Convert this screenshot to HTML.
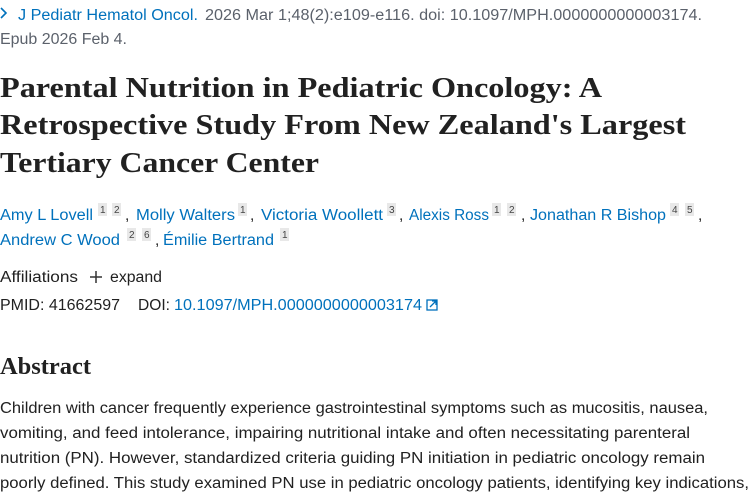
<!DOCTYPE html>
<html><head><meta charset="utf-8"><style>
html,body{margin:0;padding:0;background:#fff;width:750px;height:500px;overflow:hidden}
svg{display:block}
.s{font-family:"Liberation Sans",sans-serif;font-size:15.5px}
.t{font-family:"Liberation Serif",serif;font-size:28px;font-weight:bold;fill:#212121}
.l{fill:#0071bc}.g{fill:#5b616b}.d{fill:#212121}
.sup{font-family:"Liberation Sans",sans-serif;font-size:10px;fill:#444}
</style></head><body>
<svg width="750" height="500" xmlns="http://www.w3.org/2000/svg">
<path d="M1 8 L6 13 L1 18" stroke="#0071bc" stroke-width="1.6" fill="none"/>
<text class="s l" x="18" y="20" textLength="180" lengthAdjust="spacingAndGlyphs">J Pediatr Hematol Oncol.</text>
<text class="s g" x="205" y="20" textLength="497" lengthAdjust="spacingAndGlyphs">2026 Mar 1;48(2):e109-e116. doi: 10.1097/MPH.0000000000003174.</text>
<text class="s g" x="0" y="44" textLength="127" lengthAdjust="spacingAndGlyphs">Epub 2026 Feb 4.</text>
<text class="t" x="0" y="97" textLength="602" lengthAdjust="spacingAndGlyphs">Parental Nutrition in Pediatric Oncology: A</text>
<text class="t" x="0" y="134" textLength="686" lengthAdjust="spacingAndGlyphs">Retrospective Study From New Zealand's Largest</text>
<text class="t" x="0" y="172" textLength="319" lengthAdjust="spacingAndGlyphs">Tertiary Cancer Center</text>
<g fill="#e8e8e8">
<rect x="98" y="203" width="9" height="13"/><rect x="112" y="203" width="9" height="13"/>
<rect x="238" y="203" width="9" height="13"/>
<rect x="387" y="203" width="9" height="13"/>
<rect x="492" y="203" width="9" height="13"/><rect x="507" y="203" width="9" height="13"/>
<rect x="670" y="203" width="9" height="13"/><rect x="685" y="203" width="9" height="13"/>
<rect x="127" y="228" width="9" height="13"/><rect x="142" y="228" width="9" height="13"/>
<rect x="280" y="228" width="9" height="13"/>
</g>
<text class="sup" x="100" y="213">1</text><text class="sup" x="114" y="213">2</text>
<text class="sup" x="240" y="213">1</text><text class="sup" x="389" y="213">3</text>
<text class="sup" x="494" y="213">1</text><text class="sup" x="509" y="213">2</text>
<text class="sup" x="672" y="213">4</text><text class="sup" x="687" y="213">5</text>
<text class="sup" x="129" y="238">2</text><text class="sup" x="144" y="238">6</text>
<text class="sup" x="282" y="238">1</text>
<text class="s l" x="0" y="220" textLength="93" lengthAdjust="spacingAndGlyphs">Amy L Lovell</text>
<text class="s d" x="125" y="220">,</text>
<text class="s l" x="136" y="220" textLength="99" lengthAdjust="spacingAndGlyphs">Molly Walters</text>
<text class="s d" x="250" y="220">,</text>
<text class="s l" x="261" y="220" textLength="122" lengthAdjust="spacingAndGlyphs">Victoria Woollett</text>
<text class="s d" x="399" y="220">,</text>
<text class="s l" x="409" y="220" textLength="80" lengthAdjust="spacingAndGlyphs">Alexis Ross</text>
<text class="s d" x="521" y="220">,</text>
<text class="s l" x="530" y="220" textLength="136" lengthAdjust="spacingAndGlyphs">Jonathan R Bishop</text>
<text class="s d" x="698" y="220">,</text>
<text class="s l" x="0" y="245" textLength="120" lengthAdjust="spacingAndGlyphs">Andrew C Wood</text>
<text class="s d" x="155" y="245">,</text>
<text class="s l" x="163" y="245" textLength="111" lengthAdjust="spacingAndGlyphs">Émilie Bertrand</text>
<text class="s d" x="0" y="282" textLength="78" lengthAdjust="spacingAndGlyphs">Affiliations</text>
<path d="M96 271 V283 M90 277 H102" stroke="#333" stroke-width="1.5"/>
<text class="s d" x="110" y="282" textLength="52" lengthAdjust="spacingAndGlyphs">expand</text>
<text class="s d" x="0" y="310" textLength="120" lengthAdjust="spacingAndGlyphs">PMID: 41662597</text>
<text class="s d" x="138" y="310" textLength="32" lengthAdjust="spacingAndGlyphs">DOI:</text>
<text class="s l" x="174" y="310" textLength="248" lengthAdjust="spacingAndGlyphs">10.1097/MPH.0000000000003174</text>
<rect x="427" y="300" width="10" height="10" fill="none" stroke="#0071bc" stroke-width="1.3"/>
<path d="M430 307 L436 301 M432 301 H436 V305" stroke="#0071bc" stroke-width="1.3" fill="none"/>
<text font-family="Liberation Serif,serif" font-size="24" font-weight="bold" fill="#212121" x="0" y="374" textLength="91" lengthAdjust="spacingAndGlyphs">Abstract</text>
<text class="s d" x="0" y="413" textLength="708" lengthAdjust="spacingAndGlyphs">Children with cancer frequently experience gastrointestinal symptoms such as mucositis, nausea,</text>
<text class="s d" x="0" y="438" textLength="690" lengthAdjust="spacingAndGlyphs">vomiting, and feed intolerance, impairing nutritional intake and often necessitating parenteral</text>
<text class="s d" x="0" y="463" textLength="705" lengthAdjust="spacingAndGlyphs">nutrition (PN). However, standardized criteria guiding PN initiation in pediatric oncology remain</text>
<text class="s d" x="0" y="488" textLength="749" lengthAdjust="spacingAndGlyphs">poorly defined. This study examined PN use in pediatric oncology patients, identifying key indications,</text>
<text class="s d" x="0" y="512" textLength="740" lengthAdjust="spacingAndGlyphs">outcomes, and clinical variables that may support a more consistent approach to PN use in oncology care.</text>
</svg>
</body></html>
